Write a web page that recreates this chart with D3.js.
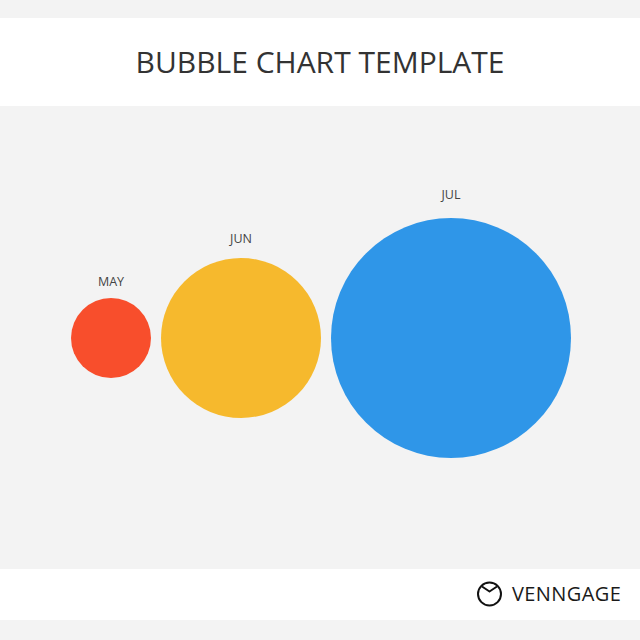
<!DOCTYPE html>
<html>
<head>
<meta charset="utf-8">
<script src="https://cdn.jsdelivr.net/npm/d3@7.9.0/dist/d3.min.js"></script>
<style>
  html, body { margin: 0; padding: 0; background: #f3f3f3; }
  svg { display: block; font-family: 'Open Sans', sans-serif; }
</style>
</head>
<body>
<svg id="chart" width="640" height="640"></svg>
<script>
/* data */
const months = ['MAY', 'JUN', 'JUL'];
const values = [1, 4, 9];
const colors = ['#f84e2c', '#f6b92d', '#2f96e8'];

const width = 640;
const height = 640;
const centerY = 338;
const startX = 71;
const gap = 10;

const svg = d3.select('#chart');

/* backgrounds */
svg.append('rect').attr('width', width).attr('height', height).attr('fill', '#f3f3f3');
svg.append('rect').attr('x', 0).attr('y', 18).attr('width', width).attr('height', 88).attr('fill', '#ffffff');
svg.append('rect').attr('x', 0).attr('y', 569).attr('width', width).attr('height', 51).attr('fill', '#ffffff');

/* title */
svg.append('text')
  .attr('x', width / 2)
  .attr('y', 73)
  .attr('text-anchor', 'middle')
  .attr('font-size', 30)
  .attr('fill', '#333')
  .text('BUBBLE CHART TEMPLATE');

/* radius scale */
const rScale = d3.scaleSqrt()
  .domain([0, d3.max(values)])
  .range([0, 120]);

/* pack bubbles left to right */
const bubbles = [];
let cursor = startX;
months.forEach((m, i) => {
  const r = rScale(values[i]);
  bubbles.push({ month: m, value: values[i], color: colors[i], r, cx: cursor + r });
  cursor += 2 * r + gap;
});

const g = svg.append('g').attr('class', 'bubbles');

g.selectAll('circle')
  .data(bubbles)
  .join('circle')
  .attr('cx', d => d.cx)
  .attr('cy', centerY)
  .attr('r', d => d.r)
  .attr('fill', d => d.color);

g.selectAll('text')
  .data(bubbles)
  .join('text')
  .attr('x', d => d.cx)
  .attr('y', d => centerY - (d.r * 1.08 + 9))
  .attr('text-anchor', 'middle')
  .attr('font-size', 12.5)
  .attr('fill', '#444')
  .text(d => d.month);

/* footer logo */
const logo = svg.append('g').attr('transform', 'translate(489.5,594)');
logo.append('circle')
  .attr('r', 11.5)
  .attr('fill', 'none')
  .attr('stroke', '#111')
  .attr('stroke-width', 2);
logo.append('path')
  .attr('d', 'M-7.5,-7.5 L0,-2.5 L7.5,-7.5')
  .attr('fill', 'none')
  .attr('stroke', '#111')
  .attr('stroke-width', 2)
  .attr('stroke-linejoin', 'round');

svg.append('text')
  .attr('x', 512)
  .attr('y', 601)
  .attr('font-size', 20)
  .attr('font-weight', 400)
  .attr('fill', '#1a1a1a')
  .attr('letter-spacing', 0.4)
  .text('VENNGAGE');
</script>
</body>
</html>
